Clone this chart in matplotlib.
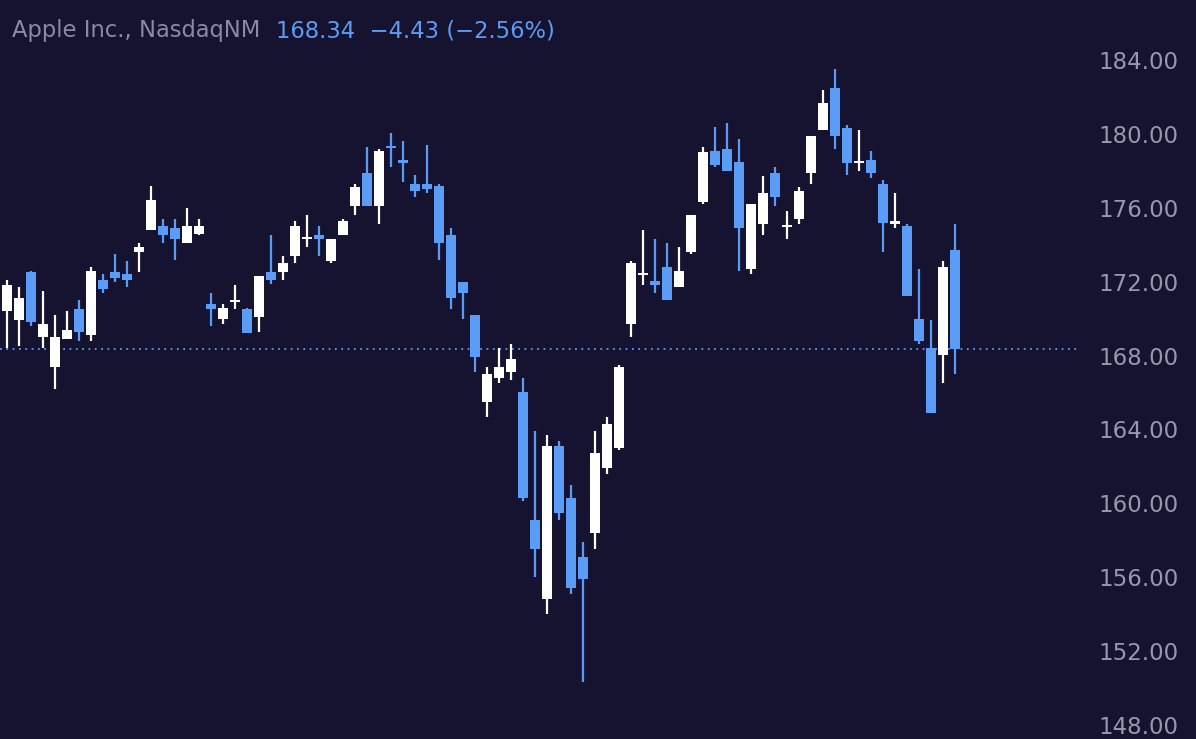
import matplotlib
matplotlib.use("Agg")
import matplotlib.pyplot as plt

opens = [170.4,169.9,172.5,169.0,167.4,168.9,170.5,169.1,172.1,172.5,172.4,173.6,174.8,175.0,174.9,174.1,174.6,
         170.8,170.0,170.9,170.5,170.1,172.5,172.5,173.4,174.3,174.5,173.1,174.5,176.1,177.9,176.1,179.35,178.6,
         177.3,177.3,177.2,174.5,172.0,170.2,165.5,166.8,167.1,166.0,159.1,154.8,163.1,160.3,157.1,158.4,161.9,
         163.0,169.7,172.35,172.05,172.8,171.7,173.6,176.3,179.1,179.2,178.5,172.7,175.1,177.9,174.95,175.4,177.9,
         180.2,182.5,180.3,178.45,178.6,177.3,175.15,175.0,170.0,168.4,168.05,173.7]
closes = [171.8,171.1,169.8,169.7,169.0,169.4,169.3,172.6,171.6,172.2,172.1,173.9,176.4,174.5,174.3,175.0,175.0,
          170.5,170.6,171.0,169.2,172.3,172.1,173.0,175.0,174.4,174.3,174.3,175.3,177.1,176.1,179.1,179.25,178.4,
          176.9,177.0,174.1,171.1,171.4,167.9,167.0,167.4,167.8,160.3,157.5,163.1,159.5,155.4,155.9,162.7,164.3,
          167.4,173.0,172.45,171.8,171.0,172.6,175.6,179.0,178.3,178.0,174.9,176.2,176.8,176.6,175.05,176.9,179.9,
          181.7,179.9,178.4,178.55,177.9,175.2,175.25,171.2,168.8,164.9,172.8,168.34]
highs = [172.1,171.7,172.6,171.5,170.2,170.4,171.0,172.8,172.4,173.5,173.1,174.1,177.2,175.4,175.4,176.0,175.4,
         171.4,170.8,171.8,170.6,172.3,174.5,173.4,175.3,175.6,175.0,174.3,175.4,177.3,179.3,179.2,180.05,179.6,
         177.8,179.4,177.3,174.9,172.0,170.2,167.4,168.4,168.6,166.8,163.9,163.7,163.4,161.0,157.9,163.9,164.7,
         167.5,173.1,174.8,174.3,174.1,173.9,175.6,179.3,180.4,180.6,179.7,176.2,177.7,178.2,175.8,177.1,179.9,
         182.4,183.5,180.5,180.2,179.1,177.5,176.8,175.1,172.7,169.9,173.1,175.1]
lows = [168.4,168.5,169.6,168.4,166.2,168.9,168.8,168.8,171.4,172.0,171.7,172.5,174.8,174.1,173.2,174.1,174.5,
        169.6,169.7,170.5,169.2,169.3,171.9,172.1,173.0,173.9,173.4,173.0,174.5,175.6,176.1,175.1,178.2,177.4,
        176.6,176.8,173.2,170.5,170.0,167.1,164.7,166.5,166.7,160.1,156.0,154.0,159.1,155.1,150.3,157.5,161.6,
        162.9,169.0,171.8,171.4,171.0,171.7,173.5,176.2,178.2,178.0,172.6,172.4,174.5,176.1,174.3,175.1,177.3,
        180.2,179.2,177.8,178.0,177.6,173.6,174.9,171.2,168.6,164.9,166.5,167.0]
last_price = 168.34
yticks = [148, 152, 156, 160, 164, 168, 172, 176, 180, 184]

BG = "#15132f"
BLUE = "#5b9cf6"
UP = "#ffffff"

fig = plt.figure(figsize=(11.96, 7.39), dpi=100, facecolor=BG)
ax = fig.add_axes([0, 0, 1078/1196, 1])
ax.set_facecolor(BG)

for i, (o, c, h, l) in enumerate(zip(opens, closes, highs, lows)):
    col = UP if c >= o else BLUE
    ax.vlines(i, l, h, color=col, linewidth=1.6, zorder=2)
    b0, b1 = min(o, c), max(o, c)
    if b1 - b0 < 0.12:
        b0, b1 = (o + c) / 2 - 0.06, (o + c) / 2 + 0.06
    ax.bar(i, b1 - b0, bottom=b0, width=0.82, color=col, linewidth=0, zorder=3)

ax.axhline(last_price, color=BLUE, linestyle=(0, (1, 2.5)), linewidth=1.3, zorder=1)

ax.set_xlim(-0.58, 89.25)
ax.set_ylim(147.24, 187.25)
ax.set_yticks(yticks)
ax.set_yticklabels([f"{v:.2f}" for v in yticks])
ax.yaxis.tick_right()
ax.tick_params(axis="y", length=0, pad=15, labelsize=16.5, labelcolor="#9897b0")
ax.set_xticks([])
for s in ax.spines.values():
    s.set_visible(False)

fig.text(12/1196, 1 - 31/739, "Apple Inc., NasdaqNM", color="#8b8aa6", fontsize=16.3, va="center", ha="left")
fig.text(276/1196, 1 - 31/739, "168.34  \u22124.43 (\u22122.56%)", color=BLUE, fontsize=16.3, va="center", ha="left")

fig.savefig("out.png", dpi=100, facecolor=BG)
